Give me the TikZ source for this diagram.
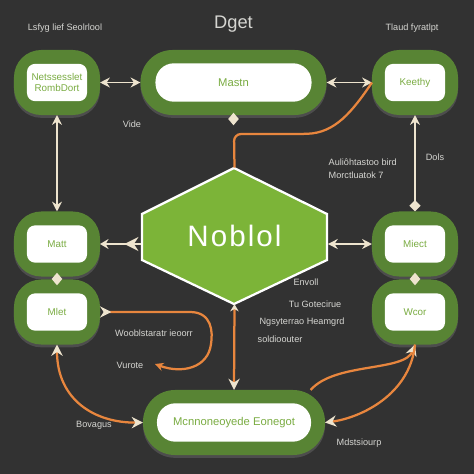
\documentclass[tikz,border=0pt]{standalone}
\usepackage{fontspec}
\setmainfont{Liberation Sans}
\usepackage{tikz}
\usetikzlibrary{arrows.meta, shapes.geometric, shadows, positioning}
\definecolor{slate}{RGB}{50,50,50}
\definecolor{mossgreen}{RGB}{88,132,52}
\definecolor{limegreen}{RGB}{124,180,56}
\definecolor{leaftext}{RGB}{122,172,66}
\definecolor{cream}{RGB}{238,228,206}
\definecolor{amber}{RGB}{232,134,62}
\definecolor{labelgray}{RGB}{214,214,210}

\begin{document}
\begin{tikzpicture}[
    x=0.025cm, y=-0.025cm,
    shell/.style={fill=mossgreen, rounded corners=0.68cm, minimum width=2.15cm, minimum height=1.625cm, outer sep=0pt, drop shadow={shadow xshift=0pt, shadow yshift=-2pt, opacity=0.35}},
    wideshell/.style={shell, rounded corners=0.8cm, minimum width=4.65cm},
    card/.style={fill=white, rounded corners=0.2cm, minimum width=1.5cm, minimum height=0.93cm, text=leaftext, font=\fontsize{7}{8}\selectfont, align=center, inner sep=1pt},
    widecard/.style={card, rounded corners=0.46cm, minimum width=3.9cm, minimum height=0.96cm, font=\fontsize{8}{9}\selectfont},
    link/.style={cream, line width=1.3pt, {Stealth[length=7pt,width=7pt]}-{Stealth[length=7pt,width=7pt]}},
    flow/.style={amber, line width=1.6pt},
    gem/.style={diamond, fill=cream, inner sep=0pt, minimum width=0.27cm, minimum height=0.32cm},
    note/.style={text=labelgray, font=\fontsize{6.5}{8}\selectfont, inner sep=1pt}
]
    % Background
    \fill[slate] (0,0) rectangle (474,474);

    % Hexagon
    \filldraw[fill=limegreen, draw=white, line width=1.6pt] (234,168) -- (142,214) -- (142,260) -- (234,304) -- (327,260) -- (327,214) -- cycle;
    \node[text=white, font=\fontsize{21}{24}\selectfont\addfontfeatures{LetterSpace=7}, minimum width=4.65cm, minimum height=3.4cm] (hub) at (234.5,236) {Noblol};

    % Nodes
    \node[shell] (nw) at (57,82.5) {};
    \node[card] (nwc) at (nw) {Netssesslet\\RombDort};
    \node[wideshell] (top) at (233.5,82.5) {};
    \node[widecard] (topc) at (top) {Mastn};
    \node[shell] (ne) at (415,82.5) {};
    \node[card] (nec) at (ne) {Keethy};
    \node[shell] (w) at (57,244) {};
    \node[card] (wc) at (w) {Matt};
    \node[shell] (e) at (415,244) {};
    \node[card] (ec) at (e) {Miect};
    \node[shell] (sw) at (57,312) {};
    \node[card] (swc) at (sw) {Mlet};
    \node[shell] (se) at (415,312) {};
    \node[card] (sec) at (se) {Wcor};
    \node[wideshell, minimum width=4.55cm] (base) at (234,422.5) {};
    \node[widecard, minimum width=3.85cm] (basec) at (base) {Mcnnoneoyede Eonegot};

    % Title
    \node[above=0.32cm of top, text=labelgray, font=\fontsize{13}{15}\selectfont] (title) {Dget};

    % Cream links
    \draw[link] (nw) -- (top);
    \draw[link] (top) -- (ne);
    \draw[link] (nw) -- (w);
    \draw[cream, line width=1.3pt, {Stealth[length=7pt,width=7pt]}-{Turned Square[length=8pt,width=8pt]}] (ne) -- (e);
    \draw[cream, line width=1.3pt, {Stealth[length=6pt,width=7pt]}-] (w.east) -- (hub.west |- w.east);
    \draw[cream, line width=1.3pt, {Stealth[length=10pt,width=10pt]}-] ([xshift=-0.42cm]hub.west |- w.east) -- (hub.west |- w.east);
    \draw[link] (hub.east |- e.west) -- (e.west);
    \node[gem] (gtop) at (233.5,119) {};
    \node[gem] (gw) at (57,279) {};
    \node[gem] (ge) at (415,279) {};

    % Orange flows
    \draw[flow, rounded corners=5pt] (ne.west) .. controls (352,112) and (335,133) .. (300,134) -- (234,134) -- (hub.north);
    \draw[flow, {Stealth[color=cream,length=5pt,width=6pt]}-{Stealth[color=cream,length=8pt,width=8pt]}] (hub.south) -- (base.north);
    \coordinate (loopend) at (155,364);
    \draw[flow, {Stealth[color=cream,length=8pt,width=8pt,reversed]}-{Stealth[length=6pt,width=6pt]}] (sw.east) -- (190,312) .. controls (212,312) and (213,332) .. (211,344) .. controls (208,368) and (182,374) .. (loopend);
    \draw[flow, {Stealth[color=cream,length=8pt,width=8pt]}-{Stealth[color=cream,length=8pt,width=8pt]}] (sw.south) .. controls (57,400) and (95,423) .. (base.west);
    \draw[flow, {Stealth[color=cream,length=8pt,width=8pt]}-] (se.south) .. controls (405,372) and (335,362) .. (base.23);
    \draw[flow, -{Stealth[color=cream,length=8pt,width=8pt]}] (se.south) .. controls (410,395) and (360,418) .. (base.east);

    % Labels
    \node[note] (l1) at (65,28) {Lsfyg lief Seolrlool};
    \node[note] (l2) at (412,28) {Tlaud fyratlpt};
    \node[note] (l3) at (132,124) {Vide};
    \node[note] (l4) at (435,157) {Dols};
    \node[note, anchor=west] (l5) at (327,162) {Auliôhtastoo bird};
    \node[note, anchor=west] (l6) at (327,175) {Morctluatok 7};
    \node[note] (l7) at (306,282) {Envoll};
    \node[note] (l8) at (315,304) {Tu Gotecirue};
    \node[note] (l9) at (302,322) {Ngsyterrao Heamgrd};
    \node[note, anchor=west] (l10) at (256,339) {soldioouter};
    \node[note] (l11) at (154,333) {Wooblstaratr ieoorr};
    \node[note] (l12) at (130,365) {Vurote};
    \node[note] (l13) at (94,425) {Bovagus};
    \node[note] (l14) at (359,443) {Mdstsiourp};
\end{tikzpicture}
\end{document}
